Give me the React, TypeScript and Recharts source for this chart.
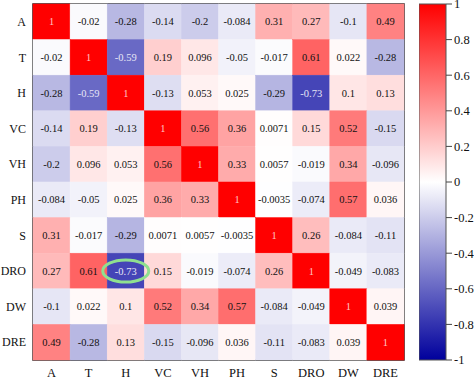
import React from 'react';
import {
  ScatterChart,
  Scatter,
  XAxis,
  YAxis,
  ReferenceArea,
  ReferenceDot,
  BarChart,
  Bar,
} from 'recharts';

const variables = ['A', 'T', 'H', 'VC', 'VH', 'PH', 'S', 'DRO', 'DW', 'DRE'];

const rowA = [1, -0.02, -0.28, -0.14, -0.2, -0.084, 0.31, 0.27, -0.1, 0.49];
const rowT = [-0.02, 1, -0.59, 0.19, 0.096, -0.05, -0.017, 0.61, 0.022, -0.28];
const rowH = [-0.28, -0.59, 1, -0.13, 0.053, 0.025, -0.29, -0.73, 0.1, 0.13];
const rowVC = [-0.14, 0.19, -0.13, 1, 0.56, 0.36, 0.0071, 0.15, 0.52, -0.15];
const rowVH = [-0.2, 0.096, 0.053, 0.56, 1, 0.33, 0.0057, -0.019, 0.34, -0.096];
const rowPH = [-0.084, -0.05, 0.025, 0.36, 0.33, 1, -0.0035, -0.074, 0.57, 0.036];
const rowS = [0.31, -0.017, -0.29, 0.0071, 0.0057, -0.0035, 1, 0.26, -0.084, -0.11];
const rowDRO = [0.27, 0.61, -0.73, 0.15, -0.019, -0.074, 0.26, 1, -0.049, -0.083];
const rowDW = [-0.1, 0.022, 0.1, 0.52, 0.34, 0.57, -0.084, -0.049, 1, 0.039];
const rowDRE = [0.49, -0.28, 0.13, -0.15, -0.096, 0.036, -0.11, -0.083, 0.039, 1];

const rows = [rowA, rowT, rowH, rowVC, rowVH, rowPH, rowS, rowDRO, rowDW, rowDRE];

const colorbarTicks = [-1, -0.8, -0.6, -0.4, -0.2, 0, 0.2, 0.4, 0.6, 0.8, 1];

// highlighted cell: row DRO, column H
const highlight = { row: 'DRO', col: 'H' };

const W = 474;
const H = 379;
const margin = { top: 4, right: 70, bottom: 0, left: 0 };
const yAxisWidth = 33;
const xAxisHeight = 19;
const cellW = (W - margin.left - margin.right - yAxisWidth) / variables.length;
const cellH = (H - margin.top - margin.bottom - xAxisHeight) / variables.length;

const FONT = '"Liberation Serif", "Times New Roman", serif';
const BLUE = [0, 0, 156];

function cellColor(v: number) {
  if (v >= 0) {
    const c = Math.round(255 * (1 - v));
    return `rgb(255,${c},${c})`;
  }
  const t = -v;
  const r = Math.round(255 + (BLUE[0] - 255) * t);
  const g = Math.round(255 + (BLUE[1] - 255) * t);
  const b = Math.round(255 + (BLUE[2] - 255) * t);
  return `rgb(${r},${g},${b})`;
}

function textColor(v: number) {
  if (v === 1) return '#ffc4c4';
  if (v < -0.5) return '#e6e6f5';
  return '#111';
}

const cells = rows.flatMap((row, ri) =>
  row.map((v, ci) => ({ x: ci + 0.5, y: ri + 0.5, v })),
);

const centers = variables.map((_, i) => i + 0.5);

const HeatCell = (props: any) => {
  const { cx, cy, payload } = props;
  if (cx == null || cy == null) return null;
  const v = payload.v as number;
  return (
    <g>
      <rect
        x={cx - cellW / 2}
        y={cy - cellH / 2}
        width={cellW}
        height={cellH}
        fill={cellColor(v)}
        stroke={cellColor(v)}
        strokeWidth={0.5}
      />
      <text
        x={cx}
        y={cy}
        textAnchor="middle"
        dominantBaseline="central"
        fontFamily={FONT}
        fontSize={10.5}
        fill={textColor(v)}
      >
        {String(v)}
      </text>
    </g>
  );
};

const Ring = (props: any) => {
  const { cx, cy } = props;
  if (cx == null || cy == null) return null;
  return <ellipse cx={cx} cy={cy} rx={cellW * 0.62} ry={cellH * 0.31} fill="none" stroke="#8fe08f" strokeWidth={3} />;
};

const colorbarData = [{ name: 'scale', range: [-1, 1] }];

export default function App() {
  const tickStyle = { fontFamily: FONT, fontSize: 12.5, fill: '#111' };
  return (
    <div style={{ position: 'absolute', left: 0, top: 0, width: W, height: H, background: '#fff' }}>
      <div style={{ position: 'absolute', left: 0, top: 0 }}>
        <ScatterChart width={W} height={H} margin={margin}>
          <XAxis
            type="number"
            dataKey="x"
            domain={[0, variables.length]}
            ticks={centers}
            tickFormatter={(t: number) => variables[Math.floor(t)]}
            axisLine={false}
            tickLine={false}
            height={xAxisHeight}
            interval={0}
            tick={tickStyle}
          />
          <YAxis
            type="number"
            dataKey="y"
            domain={[0, variables.length]}
            reversed
            ticks={centers}
            tickFormatter={(t: number) => variables[Math.floor(t)]}
            axisLine={false}
            tickLine={false}
            width={yAxisWidth}
            tickMargin={1}
            interval={0}
            tick={{ ...tickStyle, fontSize: 12 }}
          />
          <Scatter data={cells} shape={HeatCell} isAnimationActive={false} />
          <ReferenceArea
            x1={0}
            x2={variables.length}
            y1={0}
            y2={variables.length}
            fill="none"
            fillOpacity={0}
            stroke="#222"
            strokeWidth={1.5}
          />
          <ReferenceDot
            x={variables.indexOf(highlight.col) + 0.5}
            y={variables.indexOf(highlight.row) + 0.5}
            shape={Ring}
          />
        </ScatterChart>
      </div>
      <div style={{ position: 'absolute', left: 419, top: 0 }}>
        <BarChart
          width={55}
          height={H}
          data={colorbarData}
          margin={{ top: 4, right: 0, bottom: xAxisHeight, left: 0 }}
          barCategoryGap={0}
          barGap={0}
        >
          <defs>
            <linearGradient id="cbar" x1="0" y1="0" x2="0" y2="1">
              <stop offset="0%" stopColor="#ff0000" />
              <stop offset="50%" stopColor="#ffffff" />
              <stop offset="100%" stopColor="rgb(0,0,156)" />
            </linearGradient>
          </defs>
          <XAxis dataKey="name" hide />
          <YAxis
            orientation="right"
            type="number"
            domain={[-1, 1]}
            ticks={colorbarTicks}
            interval={0}
            width={28}
            axisLine={false}
            tickLine={{ stroke: '#444' }}
            tickSize={6}
            tick={tickStyle}
          />
          <Bar dataKey="range" fill="url(#cbar)" stroke="#555" strokeWidth={1} isAnimationActive={false} />
        </BarChart>
      </div>
    </div>
  );
}
